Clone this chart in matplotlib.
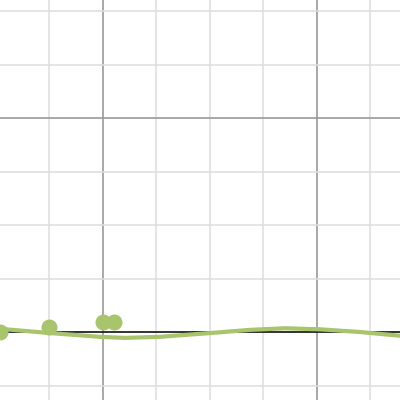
import matplotlib
matplotlib.use("Agg")
import matplotlib.pyplot as plt
import numpy as np

# points (grid units)
pts_x = [2.07, 3.0, 4.0, 4.2]
pts_y = [0.0, 0.09, 0.19, 0.19]

# fitted curve
curve_x = [2.07, 3.01, 3.94, 4.41, 5.07, 6.0, 6.75, 7.40, 8.06, 8.80, 9.55]
curve_y = [0.06, -0.02, -0.09, -0.11, -0.09, -0.02, 0.04, 0.07, 0.05, 0.0, -0.07]

fig = plt.figure(figsize=(4, 4), dpi=100)
ax = fig.add_axes([0, 0, 1, 1])
x0, x1 = 2.075, 2.075 + 400 / 53.5
y0, y1 = -68 / 53.5, 332 / 53.5
ax.set_xlim(x0, x1)
ax.set_ylim(y0, y1)

for v in np.arange(3, 12):
    major = v % 4 == 0
    ax.axvline(v, color="#999999" if major else "#dddddd", lw=1.2 if major else 1.1, zorder=0)
for v in np.arange(-1, 7):
    if v == 0:
        continue
    major = v % 4 == 0
    ax.axhline(v, color="#999999" if major else "#dddddd", lw=1.2 if major else 1.1, zorder=0)
ax.axhline(0, color="#222222", lw=1.3, zorder=1)

ax.plot(curve_x, curve_y, color="#a8c46c", lw=3, solid_capstyle="round", zorder=2)
ax.scatter(pts_x, pts_y, s=110, color="#a8c46c", zorder=3)

ax.axis("off")
fig.savefig("out.png", dpi=100)
